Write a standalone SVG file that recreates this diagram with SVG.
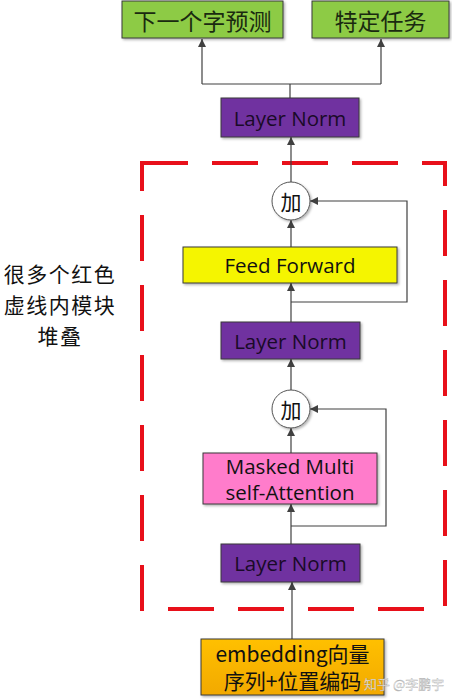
<svg xmlns="http://www.w3.org/2000/svg" width="452" height="699" viewBox="0 0 452 699">
<style>
.box{stroke:#3a3a3a;stroke-width:1}
.lat{font-family:"Open Sans","Noto Sans","Liberation Sans",sans-serif;font-size:20.5px;text-anchor:middle;dominant-baseline:central}
.cjk{font-family:"Noto Sans CJK SC","Noto Sans",sans-serif;text-anchor:middle;dominant-baseline:central}
.ln{fill:none;stroke:#404040;stroke-width:1.2}
</style>
<defs>
<marker id="ah" viewBox="0 0 10 10" refX="10" refY="5" markerWidth="8" markerHeight="8" markerUnits="userSpaceOnUse" orient="auto">
<path d="M0,0 L10,5 L0,10 z" fill="#404040"/>
</marker>
<filter id="sh" x="-10%" y="-10%" width="130%" height="140%">
<feDropShadow dx="1.5" dy="1.5" stdDeviation="1" flood-color="#000" flood-opacity="0.3"/>
</filter>
<linearGradient id="og" x1="0" y1="0" x2="0" y2="1">
<stop offset="0" stop-color="#FFC000"/>
<stop offset="1" stop-color="#F2A900"/>
</linearGradient>
</defs>
<rect width="452" height="699" fill="#fff"/>

<g id="dashed-frame">
<rect x="142" y="163" width="303" height="446" fill="none" stroke="#E8101A" stroke-width="4" stroke-dasharray="46 24"/>
</g>

<g id="connectors">
<path class="ln" d="M290,98 V84"/>
<path class="ln" d="M202,84 H381"/>
<path class="ln" d="M202,84 V39" marker-end="url(#ah)"/>
<path class="ln" d="M381,84 V39" marker-end="url(#ah)"/>
<path class="ln" d="M291,182 V137" marker-end="url(#ah)"/>
<path class="ln" d="M291,247 V220" marker-end="url(#ah)"/>
<path class="ln" d="M291,322 V283" marker-end="url(#ah)"/>
<path class="ln" d="M291,302 H407 V201 H310" marker-end="url(#ah)"/>
<path class="ln" d="M291,390 V359" marker-end="url(#ah)"/>
<path class="ln" d="M291,453 V428" marker-end="url(#ah)"/>
<path class="ln" d="M291,544 V504" marker-end="url(#ah)"/>
<path class="ln" d="M291,526 H386 V409 H310" marker-end="url(#ah)"/>
<path class="ln" d="M292,639 V582" marker-end="url(#ah)"/>
</g>

<g id="node-next-char">
<rect class="box" x="122" y="1" width="161" height="37" fill="#8DCB45" filter="url(#sh)"/>
<text class="cjk" x="202.5" y="19.5" font-size="23" fill="#1a2a10">下一个字预测</text>
</g>
<g id="node-specific-task">
<rect class="box" x="312" y="1" width="137" height="37" fill="#8DCB45" filter="url(#sh)"/>
<text class="cjk" x="380.5" y="19.5" font-size="23" fill="#1a2a10">特定任务</text>
</g>
<g id="node-layernorm-top">
<rect class="box" x="221" y="98" width="138" height="39" fill="#7030A0" filter="url(#sh)"/>
<text class="lat" x="290" y="117.5" fill="#1a0a28">Layer Norm</text>
</g>
<g id="node-add-1">
<circle cx="291" cy="201" r="19" fill="#fff" stroke="#555" stroke-width="1" filter="url(#sh)"/>
<text class="cjk" x="291" y="201" font-size="21" fill="#111">加</text>
</g>
<g id="node-feed-forward">
<rect class="box" x="183" y="247" width="214" height="36" fill="#F5F500" filter="url(#sh)"/>
<text class="lat" x="290" y="265" fill="#111">Feed Forward</text>
</g>
<g id="node-layernorm-mid">
<rect class="box" x="221" y="322" width="139" height="37" fill="#7030A0" filter="url(#sh)"/>
<text class="lat" x="290.5" y="340.5" fill="#1a0a28">Layer Norm</text>
</g>
<g id="node-add-2">
<circle cx="291" cy="409" r="19" fill="#fff" stroke="#555" stroke-width="1" filter="url(#sh)"/>
<text class="cjk" x="291" y="409" font-size="21" fill="#111">加</text>
</g>
<g id="node-masked-attention">
<rect class="box" x="203" y="453" width="174" height="51" fill="#FF7BCB" filter="url(#sh)"/>
<text class="lat" x="290" y="465.5" fill="#111">Masked Multi</text>
<text class="lat" x="290" y="492" fill="#111">self-Attention</text>
</g>
<g id="node-layernorm-bottom">
<rect class="box" x="221" y="544" width="139" height="38" fill="#7030A0" filter="url(#sh)"/>
<text class="lat" x="290.5" y="563" fill="#1a0a28">Layer Norm</text>
</g>
<g id="node-embedding">
<rect class="box" x="201" y="639" width="183" height="56" fill="url(#og)" filter="url(#sh)"/>
<text class="cjk" x="292.5" y="653" font-size="21" fill="#111">embedding向量</text>
<text class="cjk" x="292.5" y="680" font-size="21" fill="#111">序列+位置编码</text>
</g>
<g id="side-label">
<text class="cjk" x="60" y="273" font-size="21" letter-spacing="1.5" fill="#111">很多个红色</text>
<text class="cjk" x="60" y="304" font-size="21" letter-spacing="1.5" fill="#111">虚线内模块</text>
<text class="cjk" x="60" y="335" font-size="21" letter-spacing="1.5" fill="#111">堆叠</text>
</g>
<g id="watermark">
<text x="364" y="683" font-family="Noto Sans CJK SC,sans-serif" font-size="13" text-anchor="start" dominant-baseline="central" fill="#fff" fill-opacity="0.85" stroke="#888" stroke-width="0.4" stroke-opacity="0.7">知乎 @李鹏宇</text>
</g>
</svg>
